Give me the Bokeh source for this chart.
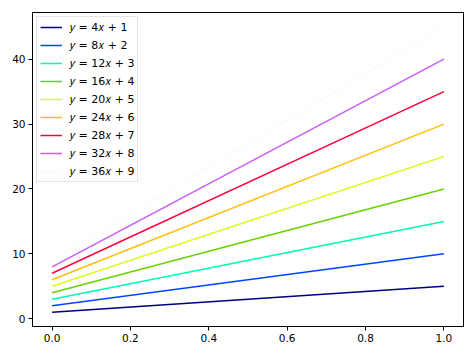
from bokeh.plotting import figure
from bokeh.models import Legend, LegendItem, Range1d, FixedTicker
from bokeh.embed import file_html
from bokeh.resources import INLINE

x_vals = [0.0, 1.0]
y_start = [1, 2, 3, 4, 5, 6, 7, 8, 9]
y_end = [5, 10, 15, 20, 25, 30, 35, 40, 45]
labels = ["𝑦 = 4𝑥 + 1", "𝑦 = 8𝑥 + 2", "𝑦 = 12𝑥 + 3", "𝑦 = 16𝑥 + 4", "𝑦 = 20𝑥 + 5",
          "𝑦 = 24𝑥 + 6", "𝑦 = 28𝑥 + 7", "𝑦 = 32𝑥 + 8", "𝑦 = 36𝑥 + 9"]
colors = ["#000080", "#0045ff", "#00fbb2", "#67d300", "#d8ff22",
          "#ffbe0c", "#ff003b", "#c95df5", "#fef8fe"]
x_ticks = [0.0, 0.2, 0.4, 0.6, 0.8, 1.0]
y_ticks = [0, 10, 20, 30, 40]

p = figure(width=474, height=355, output_backend="svg", toolbar_location=None,
           x_range=Range1d(-0.05, 1.05), y_range=Range1d(-1.2, 47.2),
           min_border_left=32, min_border_right=11, min_border_top=12, min_border_bottom=29)
p.xgrid.visible = False
p.ygrid.visible = False
p.outline_line_color = "black"
p.outline_line_width = 1
p.background_fill_color = "white"
p.border_fill_color = "white"

items = []
for ys, ye, lab, c in zip(y_start, y_end, labels, colors):
    r = p.line(x_vals, [ys, ye], line_color=c, line_width=1.5)
    items.append(LegendItem(label=lab, renderers=[r]))

for ax in (p.xaxis[0], p.yaxis[0]):
    ax.major_tick_out = 4
    ax.major_tick_in = 0
    ax.minor_tick_out = 0
    ax.minor_tick_in = 0
    ax.axis_line_color = "black"
    ax.major_tick_line_color = "black"
    ax.major_label_text_font = "DejaVu Sans"
    ax.major_label_text_font_size = "10.5px"
    ax.major_label_text_color = "black"
    ax.major_label_standoff = 3
p.xaxis.ticker = FixedTicker(ticks=x_ticks)
p.yaxis.ticker = FixedTicker(ticks=y_ticks)
p.xaxis.major_label_overrides = {t: f"{t:.1f}" for t in x_ticks}

legend = Legend(items=items, location="top_left")
legend.margin = 4
legend.padding = 3
legend.spacing = 4
legend.glyph_width = 22
legend.glyph_height = 14
legend.label_height = 14
legend.label_standoff = 8
legend.label_text_font = "DejaVu Sans"
legend.label_text_font_size = "11px"
legend.label_text_color = "black"
legend.border_line_color = "#cccccc"
legend.border_line_width = 1
legend.background_fill_alpha = 0.8
p.add_layout(legend)

open("out.html", "w").write(file_html(p, INLINE))
